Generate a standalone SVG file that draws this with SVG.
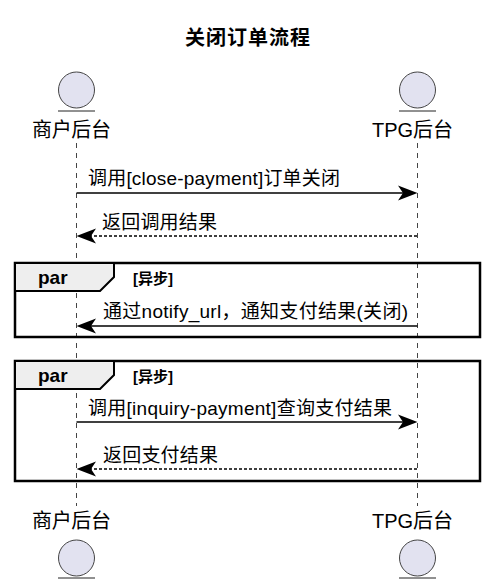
<svg xmlns="http://www.w3.org/2000/svg" width="488" height="587" viewBox="0 0 488 587">
<defs>
<style>
text{font-family:"Liberation Sans","Noto Sans CJK SC",sans-serif;fill:#000}
.title{font-size:20px;font-weight:bold}
.plabel{font-size:20px}
.msg{font-size:19px}
.par{font-size:19px;font-weight:bold}
.cond{font-size:15px;font-weight:bold}
.head{fill:#E2E2F0;stroke:#444;stroke-width:1}
.uline{stroke:#222;stroke-width:1}
.life{stroke:#444;stroke-width:1;stroke-dasharray:5,5;fill:none}
.solid{stroke:#000;stroke-width:1.5;fill:none}
.dash{stroke:#000;stroke-width:1.5;stroke-dasharray:3,2;fill:none}
.arrow{fill:#000;stroke:none}
.frame{fill:none;stroke:#000;stroke-width:2.5}
.tab{fill:#EEEEEE;stroke:#000;stroke-width:2}
</style>
</defs>
<text class="title" x="185" y="45" textLength="125">关闭订单流程</text>

<g id="lifelines">
<line class="life" x1="76.5" y1="143" x2="76.5" y2="506"/>
<line class="life" x1="417.5" y1="143" x2="417.5" y2="506"/>
</g>

<g id="frame1">
<rect class="frame" x="15" y="263" width="465" height="74"/>
<path class="tab" d="M15,263 H114 V277 L100,291 H15 Z"/>
<text class="par" x="38" y="284">par</text>
<text class="cond" x="133" y="284">[异步]</text>
</g>
<g id="frame2">
<rect class="frame" x="15" y="361" width="465" height="120"/>
<path class="tab" d="M15,361 H114 V375 L100,389 H15 Z"/>
<text class="par" x="38" y="382">par</text>
<text class="cond" x="133" y="382">[异步]</text>
</g>

<g id="merchant">
<circle class="head" cx="76.5" cy="90" r="18"/>
<line class="uline" x1="58" y1="111" x2="95" y2="111"/>
<text class="plabel" x="32" y="137" textLength="79">商户后台</text>
<text class="plabel" x="32" y="528" textLength="79">商户后台</text>
<circle class="head" cx="76.5" cy="558" r="18"/>
<line class="uline" x1="58" y1="578" x2="95" y2="578"/>
</g>

<g id="tpg">
<circle class="head" cx="417.5" cy="90" r="18"/>
<line class="uline" x1="399" y1="111" x2="436" y2="111"/>
<text class="plabel" x="372" y="137" textLength="81">TPG后台</text>
<text class="plabel" x="372" y="528" textLength="81">TPG后台</text>
<circle class="head" cx="417.5" cy="558" r="18"/>
<line class="uline" x1="399" y1="578" x2="436" y2="578"/>
</g>

<g id="connectors">
<line class="solid" x1="76.5" y1="193" x2="410" y2="193"/>
<polygon class="arrow" points="417.5,193 398,185.5 403,193 398,200.5"/>
<text class="msg" x="88" y="185" textLength="252">调用[close-payment]订单关闭</text>

<line class="dash" x1="84" y1="236" x2="417.5" y2="236"/>
<polygon class="arrow" points="76.5,236 96,228.5 91,236 96,243.5"/>
<text class="msg" x="102" y="229" textLength="115">返回调用结果</text>

<line class="solid" x1="84" y1="326" x2="417.5" y2="326"/>
<polygon class="arrow" points="76.5,326 96,318.5 91,326 96,333.5"/>
<text class="msg" x="103" y="318" textLength="305">通过notify_url，通知支付结果(关闭)</text>

<line class="solid" x1="76.5" y1="422" x2="410" y2="422"/>
<polygon class="arrow" points="417.5,422 398,414.5 403,422 398,429.5"/>
<text class="msg" x="88" y="415" textLength="304">调用[inquiry-payment]查询支付结果</text>

<line class="dash" x1="84" y1="469" x2="417.5" y2="469"/>
<polygon class="arrow" points="76.5,469 96,461.5 91,469 96,476.5"/>
<text class="msg" x="103" y="462" textLength="115">返回支付结果</text>
</g>
</svg>
